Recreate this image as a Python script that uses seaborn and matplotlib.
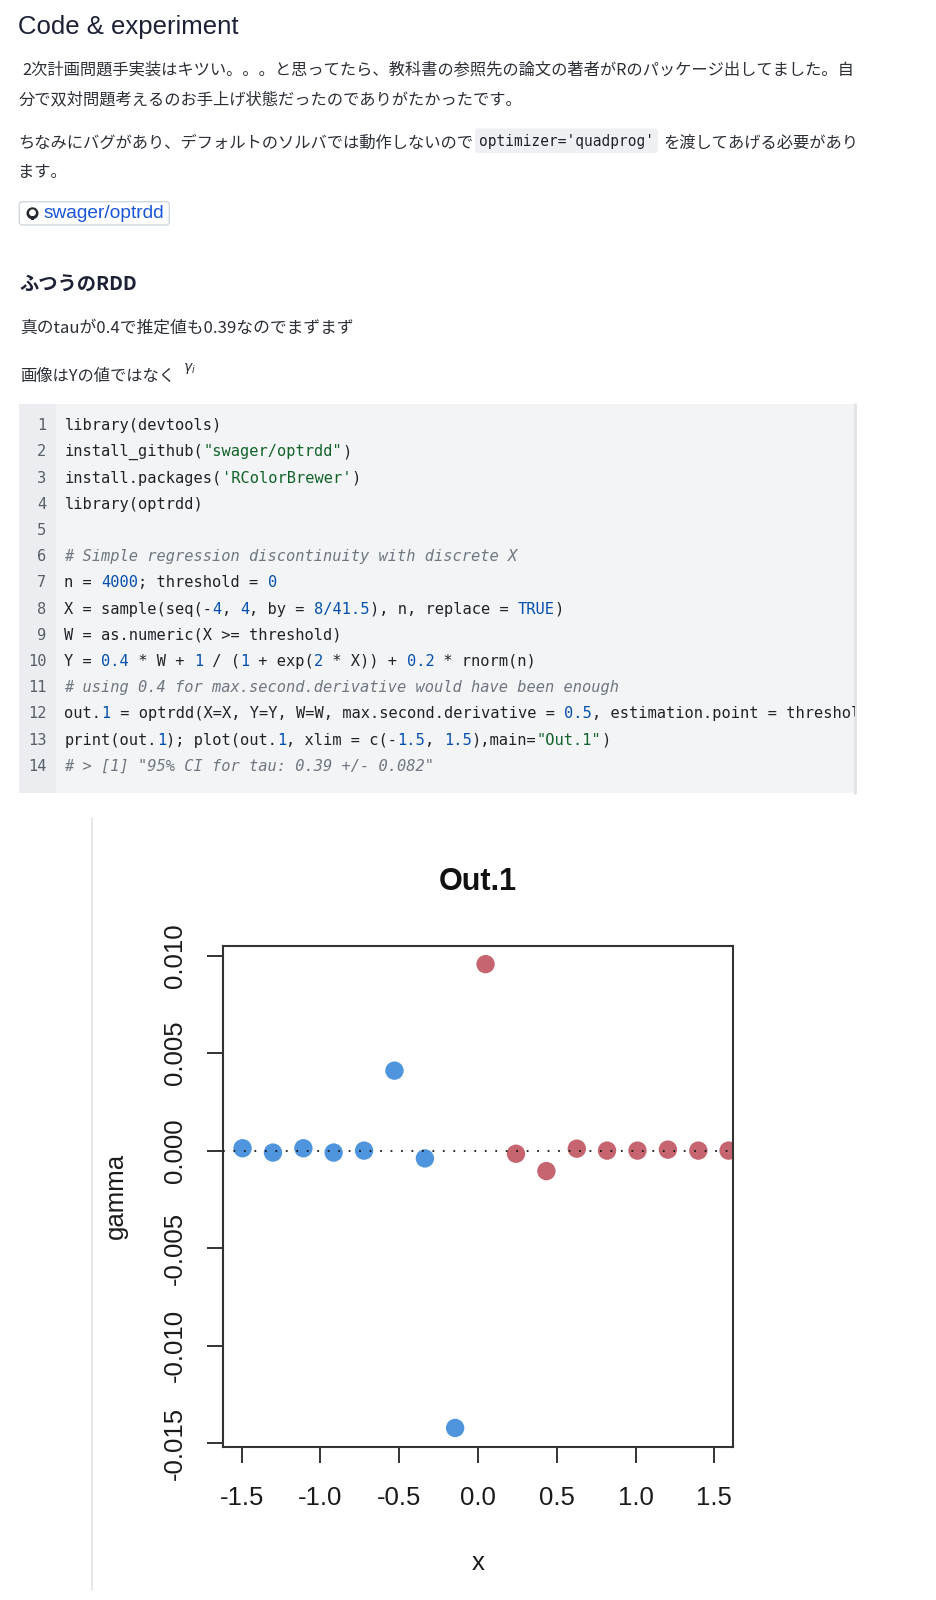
import numpy as np
import pandas as pd
import matplotlib
matplotlib.use("Agg")
import matplotlib.pyplot as plt
from matplotlib.patches import Rectangle, FancyBboxPatch, Circle
from matplotlib.transforms import Bbox
import seaborn as sns

### data of the Out.1 plot
x_vals = [-1.494, -1.301, -1.108, -0.916, -0.723, -0.530, -0.337, -0.145,
          0.048, 0.241, 0.434, 0.627, 0.819, 1.012, 1.205, 1.398, 1.590]
gamma_vals = [0.00012, -0.0001, 0.00012, -0.0001, 0.0, 0.0041, -0.00040, -0.01422,
              0.00956, -0.00016, -0.00105, 0.0001, 0.0, 0.0, 0.00005, 0.0, 0.0]
side = ['left'] * 8 + ['right'] * 9

x_ticks = [-1.5, -1.0, -0.5, 0.0, 0.5, 1.0, 1.5]
x_tick_labels = ['-1.5', '-1.0', '-0.5', '0.0', '0.5', '1.0', '1.5']
y_ticks = [-0.015, -0.010, -0.005, 0.0, 0.005, 0.010]
y_tick_labels = ['-0.015', '-0.010', '-0.005', '0.000', '0.005', '0.010']

### page texts
header = 'Code & experiment'
para1 = [' 2次計画問題手実装はキツい。。。と思ってたら、教科書の参照先の論文の著者がRのパッケージ出してました。自',
         '分で双対問題考えるのお手上げ状態だったのでありがたかったです。']
para2_a = 'ちなみにバグがあり、デフォルトのソルバでは動作しないので'
para2_code = "optimizer='quadprog'"
para2_b = 'を渡してあげる必要があり'
para2_c = 'ます。'
link_text = 'swager/optrdd'
subhead = 'ふつうのRDD'
line_tau = '真のtauが0.4で推定値も0.39なのでまずまず'
line_img = '画像はYの値ではなく'

# code lines: (text, kind) t=plain n=number s=string c=comment
code_lines = [
    [('library(devtools)', 't')],
    [('install_github(', 't'), ('"swager/optrdd"', 's'), (')', 't')],
    [('install.packages(', 't'), ("'RColorBrewer'", 's'), (')', 't')],
    [('library(optrdd)', 't')],
    [],
    [('# Simple regression discontinuity with discrete X', 'c')],
    [('n = ', 't'), ('4000', 'n'), ('; threshold = ', 't'), ('0', 'n')],
    [('X = sample(seq(-', 't'), ('4', 'n'), (', ', 't'), ('4', 'n'), (', by = ', 't'),
     ('8/41.5', 'n'), ('), n, replace = ', 't'), ('TRUE', 'n'), (')', 't')],
    [('W = as.numeric(X >= threshold)', 't')],
    [('Y = ', 't'), ('0.4', 'n'), (' * W + ', 't'), ('1', 'n'), (' / (', 't'), ('1', 'n'),
     (' + exp(', 't'), ('2', 'n'), (' * X)) + ', 't'), ('0.2', 'n'), (' * rnorm(n)', 't')],
    [('# using 0.4 for max.second.derivative would have been enough', 'c')],
    [('out.', 't'), ('1', 'n'), (' = optrdd(X=X, Y=Y, W=W, max.second.derivative = ', 't'),
     ('0.5', 'n'), (', estimation.point = threshold', 't')],
    [('print(out.', 't'), ('1', 'n'), ('); plot(out.', 't'), ('1', 'n'), (', xlim = c(-', 't'),
     ('1.5', 'n'), (', ', 't'), ('1.5', 'n'), ('),main=', 't'), ('"Out.1"', 's'), (')', 't')],
    [('# > [1] "95% CI for tau: 0.39 +/- 0.082"', 'c')],
]
code_colors = {'t': '#1f2328', 'n': '#0550ae', 's': '#116329', 'c': '#6e7781'}

BLUE = '#4F95DE'
RED = '#C6646F'

sns.set_theme(style='white')
plt.rcParams['font.family'] = ['Noto Sans CJK JP', 'DejaVu Sans']
plt.rcParams['axes.unicode_minus'] = False

fig = plt.figure(figsize=(9.37, 16), dpi=100)

# page layer in pixel units
bg = fig.add_axes([0, 0, 1, 1])
bg.set_xlim(0, 937)
bg.set_ylim(1600, 0)
bg.axis('off')
renderer = fig.canvas.get_renderer()


def mono_advance(fs):
    probe = bg.text(0, 0, 'x' * 100, family='DejaVu Sans Mono', fontsize=fs)
    w = probe.get_window_extent(renderer).width / 100.0
    probe.remove()
    return w


TXT = '#2b2f36'
JP = 11.72
bg.text(18, 27, header, fontsize=18.5, family='Liberation Sans', color='#1c2135', va='center')
bg.text(22, 70, para1[0].strip(), fontsize=JP, color=TXT, va='center')
bg.text(18.4, 100, para1[1], fontsize=JP, color=TXT, va='center')
bg.text(18.4, 143, para2_a, fontsize=JP, color=TXT, va='center')
bg.add_patch(FancyBboxPatch((475, 128.5), 183, 24.5, boxstyle='round,pad=0,rounding_size=3',
                            fc='#eef0f3', ec='none'))
bg.text(479.5, 141.5, para2_code, fontsize=10.45, family='DejaVu Sans Mono', color='#1f2328', va='center')
bg.text(663, 143, para2_b, fontsize=JP, color=TXT, va='center')
bg.text(18.4, 172, para2_c, fontsize=JP, color=TXT, va='center')

# link button
bg.add_patch(FancyBboxPatch((19.3, 201.7), 150, 23.3, boxstyle='round,pad=0,rounding_size=3',
                            fc='white', ec='#d0d7de', lw=1.0))
bg.add_patch(Circle((32.5, 213.3), 6.0, fc='#24292f', ec='none'))
bg.add_patch(Circle((32.5, 212.8), 3.4, fc='white', ec='none'))
bg.add_patch(Rectangle((31.3, 215.5), 2.4, 4.0, fc='#24292f', ec='none'))
bg.text(44.0, 213.5, link_text, fontsize=13.8, family='Liberation Sans', color='#1a56db', va='center')

bg.text(19.7, 284.8, subhead, fontsize=13.9, fontweight='bold', color='#1c2135', va='center')
bg.text(19.7, 328.5, line_tau, fontsize=12.1, color=TXT, va='center')
bg.text(19.7, 376.5, line_img, fontsize=JP, color=TXT, va='center')
bg.text(183, 368, r'$\gamma_i$', fontsize=10, color=TXT, va='center')

# code block
bg.add_patch(Rectangle((19.3, 404.3), 837.4, 388.4, fc='#f3f4f6', ec='none'))
bg.add_patch(Rectangle((19.3, 404.3), 36.7, 388.4, fc='#ebedf0', ec='none'))
bg.plot([855.5, 855.5], [404.3, 792.7], color='#e2e4e8', lw=2)
clip = Bbox([[19.3, 1600 - 792.7], [854.5, 1600 - 404.3]])

# pick a size whose rendered advance is ~9.2 px, then place segments on that grid
CODE_FS = 11.0
CODE_FS = CODE_FS * 9.2 / mono_advance(CODE_FS)
cw = mono_advance(CODE_FS)
for i, segs in enumerate(code_lines):
    y = 425.7 + i * 26.2
    bg.text(46.5, y, str(i + 1), ha='right', va='center', family='DejaVu Sans Mono',
            fontsize=CODE_FS, color='#57606a')
    col = 0
    for txt, kind in segs:
        t = bg.text(64.5 + col * cw, y, txt, va='center', family='DejaVu Sans Mono',
                    fontsize=CODE_FS, color=code_colors[kind],
                    style='italic' if kind == 'c' else 'normal', clip_on=True)
        t.set_clip_box(clip)
        col += len(txt)

# image frame edge
bg.plot([91.7, 91.7], [818, 1590], color='#e4e4e4', lw=1.2)

# the R plot
L, R_, T, B = 222.7, 733.3, 946.0, 1446.7
ax = fig.add_axes([L / 937, 1 - B / 1600, (R_ - L) / 937, (B - T) / 1600])
df = pd.DataFrame({'x': x_vals, 'gamma': gamma_vals, 'side': side})
sns.scatterplot(data=df, x='x', y='gamma', hue='side', palette={'left': BLUE, 'right': RED},
                s=175, linewidth=0, legend=False, ax=ax, zorder=2)
ax.axhline(0, color='#1a1a1a', lw=1.3, ls=(0, (1, 4.8)), zorder=3)
ax.set_xlim(-1.62, 1.62)
ax.set_ylim(-0.01518, 0.01049)
ax.grid(False)

ax.set_xticks(x_ticks)
ax.set_xticklabels(x_tick_labels, fontfamily='Liberation Sans')
ax.set_yticks(y_ticks)
ax.set_yticklabels(y_tick_labels, fontfamily='Liberation Sans', rotation=90, va='center')
for s in ax.spines.values():
    s.set_visible(True)
    s.set_color('#333333')
    s.set_linewidth(1.5)
ax.tick_params(axis='both', which='major', direction='out', length=11.5, width=1.4,
               color='#333333', labelsize=18.5, labelcolor='#1a1a1a', bottom=True, left=True)
ax.tick_params(axis='x', pad=17.0)
ax.tick_params(axis='y', pad=14.2)

ax.set_title('Out.1', fontsize=22, fontweight='bold', family='Liberation Sans', color='#111111',
             y=1.128, pad=0, va='center')
ax.set_xlabel('x', fontsize=18.5, family='Liberation Sans', color='#1a1a1a')
ax.set_ylabel('gamma', fontsize=18.5, family='Liberation Sans', color='#1a1a1a')
ax.xaxis.set_label_coords(0.5, -0.232)
ax.xaxis.label.set_va('center')
ax.yaxis.set_label_coords(-0.209, 0.5)
ax.yaxis.label.set_va('center')

fig.savefig('out.png', dpi=100)
